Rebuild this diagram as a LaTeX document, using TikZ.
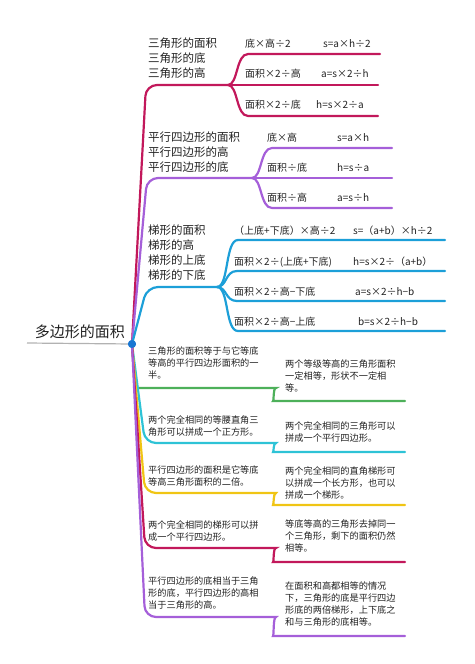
\documentclass[tikz,border=0pt]{standalone}
\usepackage{fontspec}
\setmainfont{Noto Sans CJK SC}
\usetikzlibrary{positioning}
\definecolor{crimson}{HTML}{C2185B}
\definecolor{violeta}{HTML}{A55FD9}
\definecolor{celeste}{HTML}{1C9FD8}
\definecolor{verde}{HTML}{4DB05A}
\definecolor{turquesa}{HTML}{2EC3D6}
\definecolor{amarillo}{HTML}{F0C514}
\definecolor{azulhub}{HTML}{1976D2}
\definecolor{texto}{HTML}{222222}

\tikzset{
    rama/.style={line width=2.2pt, line cap=round, rounded corners=11pt},
    subrama/.style={line width=2.2pt, line cap=round},
    etiqueta/.style={anchor=north west, inner sep=0pt, align=left, text=texto, font=\fontsize{11.5}{14.8}\selectfont},
    formula/.style={anchor=west, inner sep=0pt, text=texto, font=\fontsize{10}{12}\selectfont},
    nota/.style={anchor=north west, inner sep=0pt, align=left, text=texto, font=\fontsize{9.2}{12}\selectfont},
}

\begin{document}
\begin{tikzpicture}[x=1pt, y=-1pt]
    \useasboundingbox (0,0) rectangle (474,664);

%raiz
    \node[circle, fill=azulhub, inner sep=0pt, minimum size=8pt] (hub) at (132,344) {};
    \node[anchor=base east, inner sep=0pt, text=texto, font=\fontsize{15}{18}\selectfont] (raiz) at (125,337) {多边形的面积};
    \coordinate (raizL) at (27,343);

%rama 1: triangulo
    \coordinate (c1) at (146,85);
    \coordinate (s1) at (228,85);
    \coordinate (e1a) at (380,54);
    \coordinate (e1b) at (378,85);
    \coordinate (e1c) at (378,116);
    \draw[rama, crimson] (hub.center) -- (c1) -- (s1);
    \draw[subrama, crimson] (s1) .. controls (238,85) and (236,54) .. (248,54) -- (e1a);
    \draw[subrama, crimson] (s1) -- (e1b);
    \draw[subrama, crimson] (s1) .. controls (238,85) and (236,116) .. (248,116) -- (e1c);
    \node[etiqueta] (tri) at (148,38) {三角形的面积\\三角形的底\\三角形的高};
    \node[formula] (tri1) at (245,44) {底×高÷2};
    \node[formula] (tri1f) at (323,44) {s=a×h÷2};
    \node[formula] (tri2) at (245,74) {面积×2÷高};
    \node[formula] (tri2f) at (321,74) {a=s×2÷h};
    \node[formula] (tri3) at (245,105) {面积×2÷底};
    \node[formula] (tri3f) at (316,105) {h=s×2÷a};

%rama 2: paralelogramo
    \coordinate (c2) at (147,178);
    \coordinate (s2) at (252,178);
    \coordinate (e2a) at (392,148);
    \coordinate (e2b) at (392,178);
    \coordinate (e2c) at (392,208);
    \draw[rama, violeta] (hub.center) -- (c2) -- (s2);
    \draw[subrama, violeta] (s2) .. controls (262,178) and (260,148) .. (272,148) -- (e2a);
    \draw[subrama, violeta] (s2) -- (e2b);
    \draw[subrama, violeta] (s2) .. controls (262,178) and (260,208) .. (272,208) -- (e2c);
    \node[etiqueta] (para) at (148,132) {平行四边形的面积\\平行四边形的高\\平行四边形的底};
    \node[formula] (para1) at (267,138) {底×高};
    \node[formula] (para1f) at (337,138) {s=a×h};
    \node[formula] (para2) at (267,168) {面积÷底};
    \node[formula] (para2f) at (337,168) {h=s÷a};
    \node[formula] (para3) at (267,198) {面积÷高};
    \node[formula] (para3f) at (337,198) {a=s÷h};

%rama 3: trapecio
    \coordinate (c3) at (147,287);
    \coordinate (s3) at (217,287);
    \coordinate (e3a) at (445,240);
    \coordinate (e3b) at (445,271);
    \coordinate (e3c) at (445,301);
    \coordinate (e3d) at (445,331);
    \draw[rama, celeste] (hub.center) -- (c3) -- (s3);
    \draw[subrama, celeste] (s3) .. controls (229,287) and (225,240) .. (238,240) -- (e3a);
    \draw[subrama, celeste] (s3) .. controls (227,287) and (225,271) .. (237,271) -- (e3b);
    \draw[subrama, celeste] (s3) .. controls (227,287) and (225,301) .. (237,301) -- (e3c);
    \draw[subrama, celeste] (s3) .. controls (229,287) and (225,331) .. (238,331) -- (e3d);
    \node[etiqueta] (trap) at (148,225) {梯形的面积\\梯形的高\\梯形的上底\\梯形的下底};
    \node[formula] (trap1) at (234,231) {（上底+下底）×高÷2};
    \node[formula] (trap1f) at (353,231) {s=（a+b）×h÷2};
    \node[formula] (trap2) at (234,262) {面积×2÷(上底+下底)};
    \node[formula] (trap2f) at (353,262) {h=s×2÷（a+b）};
    \node[formula] (trap3) at (234,292) {面积×2÷高−下底};
    \node[formula] (trap3f) at (355,292) {a=s×2÷h−b};
    \node[formula] (trap4) at (234,322) {面积×2÷高−上底};
    \node[formula] (trap4f) at (358,322) {b=s×2÷h−b};

%notas
    \coordinate (n1) at (147,388);  \coordinate (m1) at (405,401);
    \coordinate (n2) at (145,443);  \coordinate (m2) at (405,452);
    \coordinate (n3) at (145,493);  \coordinate (m3) at (405,505);
    \coordinate (n4) at (145,548);  \coordinate (m4) at (405,562);
    \coordinate (n5) at (145,617);  \coordinate (m5) at (405,636);
    \draw[rama, verde] (hub.center) .. controls (134,376) and (137,388) .. (n1) -- (265,388)
        .. controls (273,388) and (274,401) .. (284,401) -- (m1);
    \draw[rama, turquesa] (hub.center) -- (n2) -- (265,443)
        .. controls (273,443) and (274,452) .. (284,452) -- (m2);
    \draw[rama, amarillo] (hub.center) -- (n3) -- (265,493)
        .. controls (273,493) and (274,505) .. (284,505) -- (m3);
    \draw[rama, crimson] (hub.center) -- (n4) -- (265,548)
        .. controls (273,548) and (274,562) .. (284,562) -- (m4);
    \draw[rama, violeta] (hub.center) -- (n5) -- (265,617)
        .. controls (273,617) and (274,636) .. (284,636) -- (m5);
    \node[circle, fill=azulhub, inner sep=0pt, minimum size=8pt] at (hub) {};
    \draw[line width=1.2pt, gray!60] (raizL) -- (hub);

    \node[nota] (nota1) at (148,347) {三角形的面积等于与它等底\\等高的平行四边形面积的一\\半。};
    \node[nota] (nota1b) at (285,360) {两个等级等高的三角形面积\\一定相等，形状不一定相\\等。};
    \node[nota] (nota2) at (148,415) {两个完全相同的等腰直角三\\角形可以拼成一个正方形。};
    \node[nota] (nota2b) at (285,421) {两个完全相同的三角形可以\\拼成一个平行四边形。};
    \node[nota] (nota3) at (148,466) {平行四边形的面积是它等底\\等高三角形面积的二倍。};
    \node[nota] (nota3b) at (285,466) {两个完全相同的直角梯形可\\以拼成一个长方形，也可以\\拼成一个梯形。};
    \node[nota] (nota4) at (148,520) {两个完全相同的梯形可以拼\\成一个平行四边形。};
    \node[nota] (nota4b) at (285,520) {等底等高的三角形去掉同一\\个三角形，剩下的面积仍然\\相等。};
    \node[nota] (nota5) at (148,577) {平行四边形的底相当于三角\\形的底，平行四边形的高相\\当于三角形的高。};
    \node[nota] (nota5b) at (285,582) {在面积和高都相等的情况\\下，三角形的底是平行四边\\形底的两倍梯形，上下底之\\和与三角形的底相等。};
\end{tikzpicture}
\end{document}
